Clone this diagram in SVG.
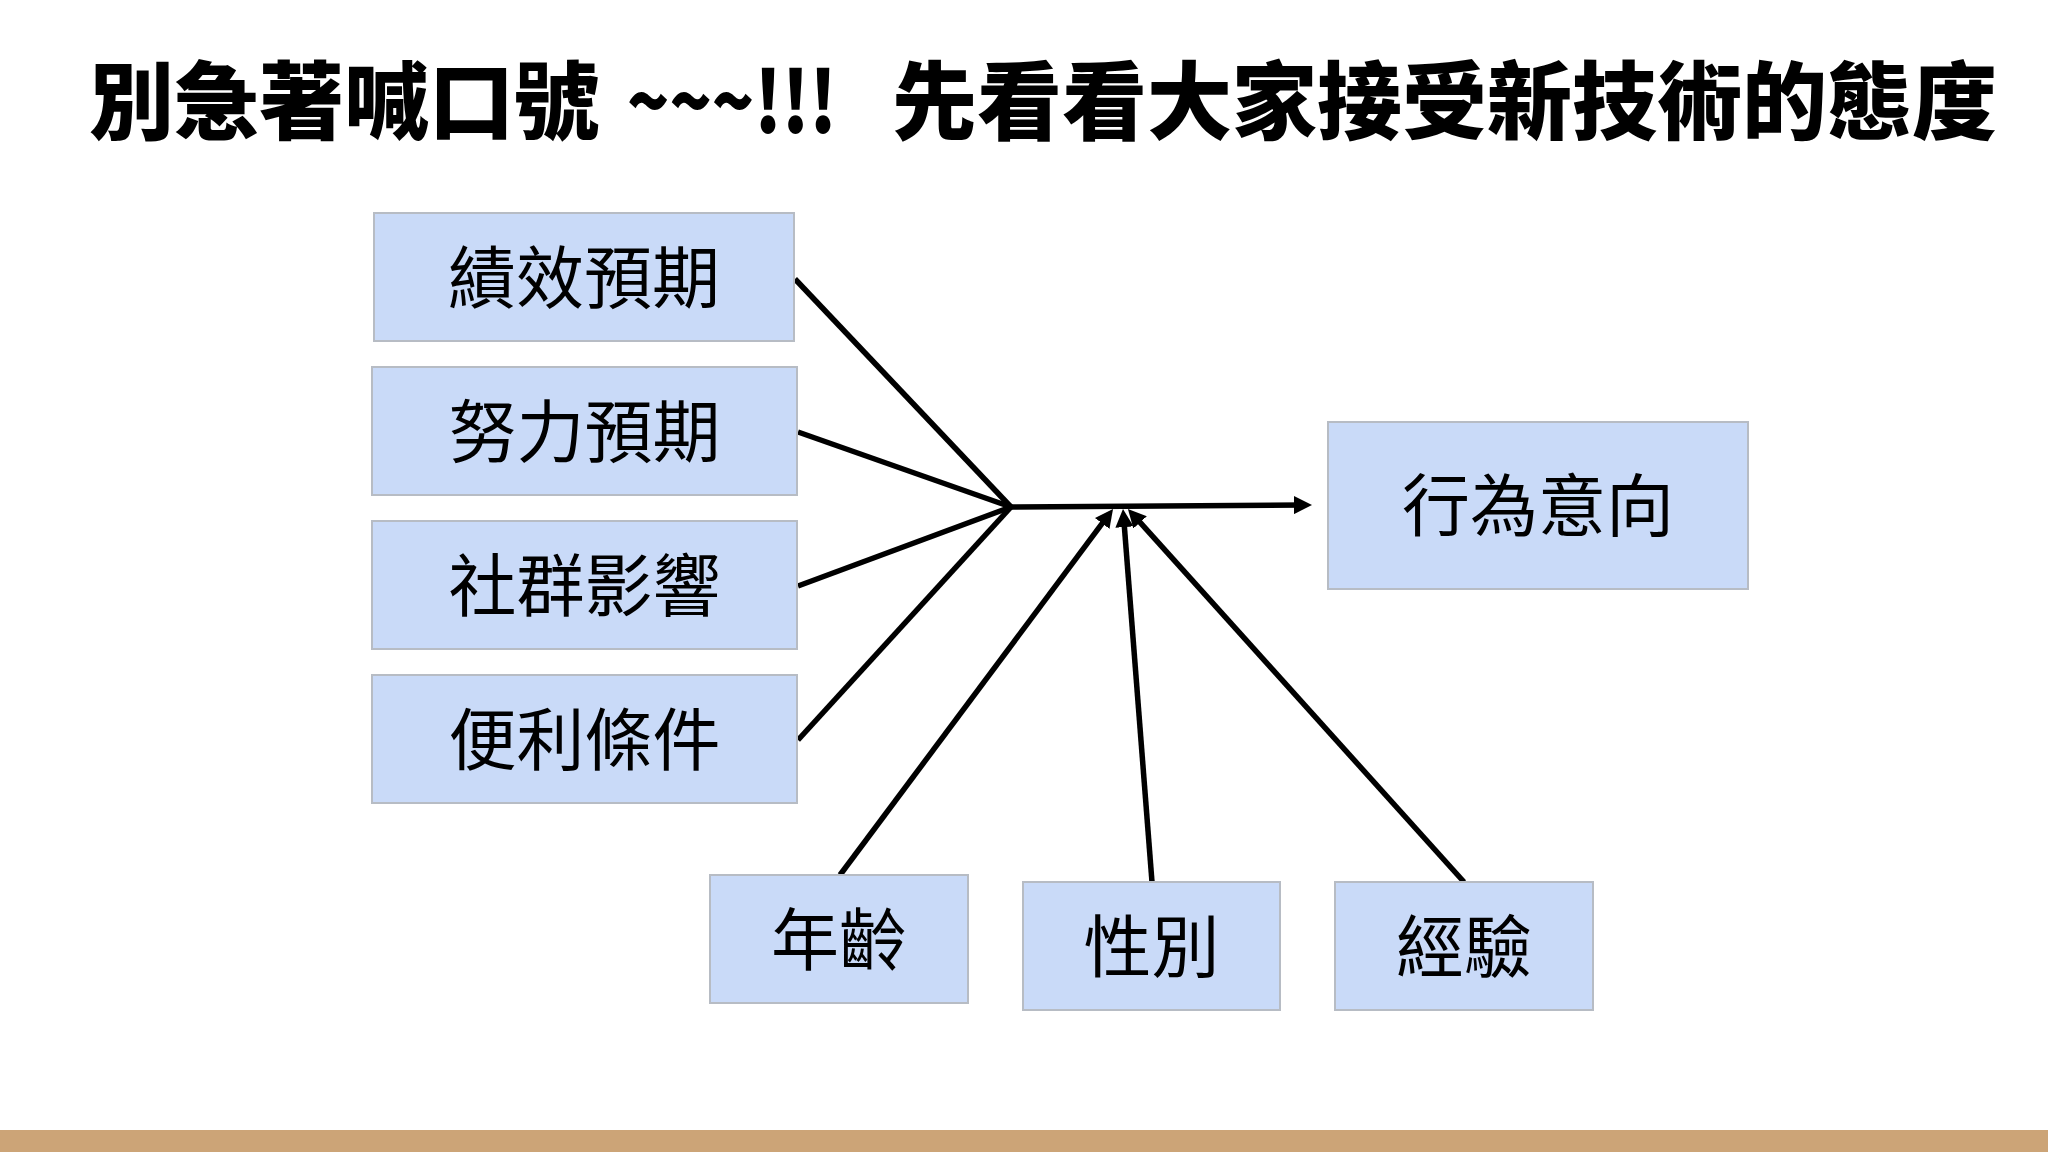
<svg xmlns="http://www.w3.org/2000/svg" width="2048" height="1152" viewBox="0 0 2048 1152">
  <defs>
    <style>
      .box { fill: #c9daf8; stroke: #b7bcc4; stroke-width: 2; }
      .lbl { font-family: "Noto Sans CJK TC", "Noto Sans CJK SC", sans-serif; font-size: 68px; fill: #000; text-anchor: middle; }
      .title { font-family: "Noto Sans CJK TC", "Noto Sans CJK SC", sans-serif; font-size: 85px; font-weight: 900; fill: #000; }
      .ln { stroke: #000; stroke-width: 5.5; fill: none; }
      .arr { marker-end: url(#ah); }
    </style>
    <marker id="ah" viewBox="0 0 10 10" refX="5" refY="5" markerWidth="3.3" markerHeight="3.3" orient="auto" markerUnits="strokeWidth">
      <path d="M0,0 L10,5 L0,10 z" fill="#000"/>
    </marker>
  </defs>
  <rect x="0" y="0" width="2048" height="1152" fill="#ffffff"/>

  <g id="title">
    <text class="title" y="133"><tspan x="89">別急著喊口號</tspan><tspan x="627" textLength="210" lengthAdjust="spacingAndGlyphs">~~~!!!</tspan><tspan x="892">先看看大家接受新技術的態度</tspan></text>
  </g>

  <g id="connectors">
    <line class="ln" x1="795" y1="279" x2="1011" y2="507"/>
    <line class="ln" x1="798" y1="432" x2="1011" y2="507"/>
    <line class="ln" x1="798" y1="586" x2="1011" y2="507"/>
    <line class="ln" x1="798" y1="740" x2="1011" y2="507"/>
    <line class="ln arr" x1="1009" y1="507" x2="1303" y2="505"/>
    <line class="ln arr" x1="840" y1="875" x2="1107.6" y2="516.2"/>
    <line class="ln arr" x1="1152" y1="882" x2="1123.7" y2="518"/>
    <line class="ln arr" x1="1464" y1="882" x2="1134" y2="515.7"/>
  </g>

  <g id="node-performance">
    <rect class="box" x="374" y="213" width="420" height="128"/>
    <text class="lbl" x="584" y="303">績效預期</text>
  </g>
  <g id="node-effort">
    <rect class="box" x="372" y="367" width="425" height="128"/>
    <text class="lbl" x="584.5" y="457">努力預期</text>
  </g>
  <g id="node-social">
    <rect class="box" x="372" y="521" width="425" height="128"/>
    <text class="lbl" x="584.5" y="611">社群影響</text>
  </g>
  <g id="node-facilitating">
    <rect class="box" x="372" y="675" width="425" height="128"/>
    <text class="lbl" x="584.5" y="765">便利條件</text>
  </g>
  <g id="node-intention">
    <rect class="box" x="1328" y="422" width="420" height="167"/>
    <text class="lbl" x="1538" y="531">行為意向</text>
  </g>
  <g id="node-age">
    <rect class="box" x="710" y="875" width="258" height="128"/>
    <text class="lbl" x="839" y="965">年齡</text>
  </g>
  <g id="node-gender">
    <rect class="box" x="1023" y="882" width="257" height="128"/>
    <text class="lbl" x="1151.5" y="972">性別</text>
  </g>
  <g id="node-experience">
    <rect class="box" x="1335" y="882" width="258" height="128"/>
    <text class="lbl" x="1464" y="972">經驗</text>
  </g>

  <rect id="footer-band" x="0" y="1130" width="2048" height="22" fill="#cca477"/>
</svg>
